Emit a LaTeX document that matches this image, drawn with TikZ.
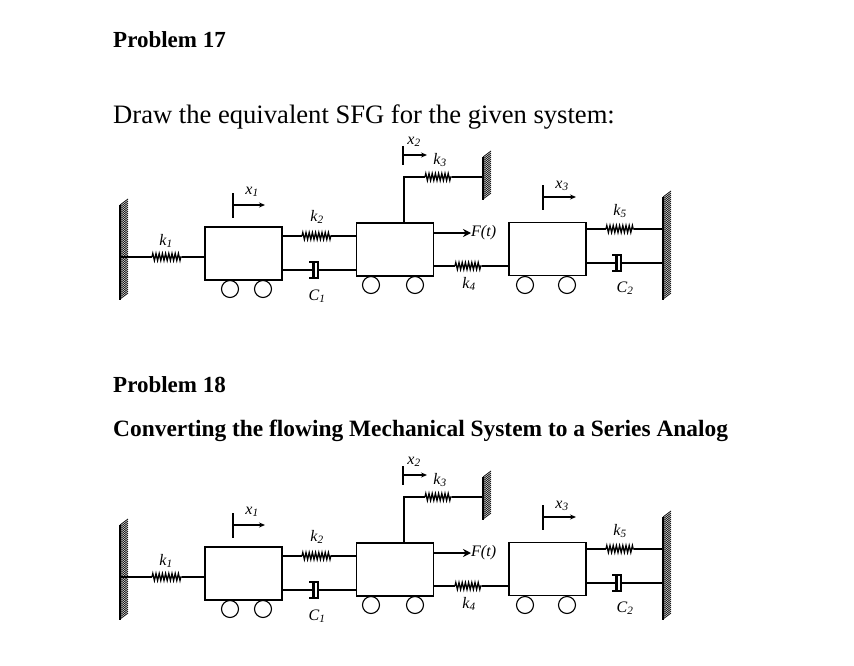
\documentclass[tikz,border=0pt]{standalone}
\usepackage{fontspec}
\setmainfont{Liberation Serif}
\usetikzlibrary{decorations.pathmorphing,arrows.meta}
\tikzset{
  ln/.style={line width=1.1pt},
  spr/.style={line width=1.3pt,decorate,decoration={zigzag,segment length=3.2pt,amplitude=3.5pt}},
  mass/.style={draw,line width=1.3pt,minimum width=77pt,minimum height=53pt,inner sep=0pt},
  whl/.style={draw,line width=1.1pt,circle,minimum size=17pt,inner sep=0pt},
  lbl/.style={font=\fontsize{16}{16}\selectfont\itshape,inner sep=1pt},
  mk/.style={line width=1.1pt},
  arr/.style={line width=1.1pt,-{Stealth[length=6pt,width=5pt]}},
}
\newcommand\wallv[3]{% x, ytop, ybot
  \draw[line width=1.2pt] (#1,#2) -- (#1,#3);
  \foreach \yy in {#2,\the\numexpr#2+2\relax,...,#3} {\draw[line width=0.8pt] (#1,\yy) -- (#1+8,\yy-6);}
}
\newcommand\mechsys[1]{%
\begin{scope}[yshift=-#1pt]
 \wallv{120}{205}{300}
 \wallv{483}{157}{200}
 \wallv{663}{197}{300}
 \node[mass] (m1) at (243.5,253.5) {};
 \node[mass] (m2) at (395,249.5) {};
 \node[mass] (m3) at (547.5,249) {};
 \foreach \x/\y in {230/289,263/289,371/285,415/285,525/285,567/285} \node[whl] at (\x,\y) {};
 \draw[ln] (120,257) -- (152,257); \draw[spr] (152,257) -- (182,257); \draw[ln] (182,257) -- (205,257);
 \node[lbl] at (166,241) {k\textsubscript{1}};
 \draw[ln] (282,236) -- (302,236); \draw[spr] (302,236) -- (331,236); \draw[ln] (331,236) -- (356.5,236);
 \node[lbl] at (317,217) {k\textsubscript{2}};
 \draw[ln] (282,270) -- (312,270); \draw[line width=3pt] (313,263) -- (313,277);
 \draw[ln] (309,262) -- (318,262) -- (318,278) -- (309,278); \draw[ln] (318,270) -- (356.5,270);
 \node[lbl] at (317,296) {C\textsubscript{1}};
 \draw[ln] (404,223) -- (404,177) -- (425,177); \draw[spr] (425,177) -- (452,177); \draw[ln] (452,177) -- (483,177);
 \node[lbl] at (440,160) {k\textsubscript{3}};
 \draw[line width=1.3pt,-{Stealth[length=8pt,width=8pt]}] (433.5,233) -- (471,233);
 \node[lbl,anchor=west] at (470,233) {F(t)};
 \draw[ln] (433.5,266) -- (455,266); \draw[spr] (455,266) -- (482,266); \draw[ln] (482,266) -- (509,266);
 \node[lbl] at (469,284) {k\textsubscript{4}};
 \draw[ln] (586,229) -- (606,229); \draw[spr] (606,229) -- (634,229); \draw[ln] (634,229) -- (663,229);
 \node[lbl] at (620,211) {k\textsubscript{5}};
 \draw[ln] (586,263) -- (615,263); \draw[line width=3pt] (616,256) -- (616,270);
 \draw[ln] (612,255) -- (621,255) -- (621,271) -- (612,271); \draw[ln] (621,263) -- (663,263);
 \node[lbl] at (625,288) {C\textsubscript{2}};
 \draw[mk] (233,193) -- (233,218); \draw[arr] (233,205) -- (265,205); \node[lbl] at (252,192) {x\textsubscript{1}};
 \draw[mk] (403,146) -- (403,165); \draw[arr] (403,155) -- (427,155); \node[lbl] at (414,142) {x\textsubscript{2}};
 \draw[mk] (543,185) -- (543,210); \draw[arr] (543,197) -- (576,197); \node[lbl] at (562,186) {x\textsubscript{3}};
\end{scope}}
\begin{document}
\begin{tikzpicture}[x=1pt,y=-1pt]
\useasboundingbox (0,0) rectangle (854,666);
\node[anchor=base west,inner sep=0pt,font=\fontsize{23}{23}\selectfont\bfseries] (t1) at (113,48) {Problem 17};
\node[anchor=base west,inner sep=0pt,font=\fontsize{26.6}{27}\selectfont] (t2) at (113,124) {Draw the equivalent SFG for the given system:};
\mechsys{0}
\node[anchor=base west,inner sep=0pt,font=\fontsize{23}{23}\selectfont\bfseries] (t3) at (113,392) {Problem 18};
\node[anchor=base west,inner sep=0pt,font=\fontsize{23.4}{24}\selectfont\bfseries] (t4) at (113,436) {Converting the flowing Mechanical System to a Series Analog};
\mechsys{320}
\end{tikzpicture}
\end{document}
